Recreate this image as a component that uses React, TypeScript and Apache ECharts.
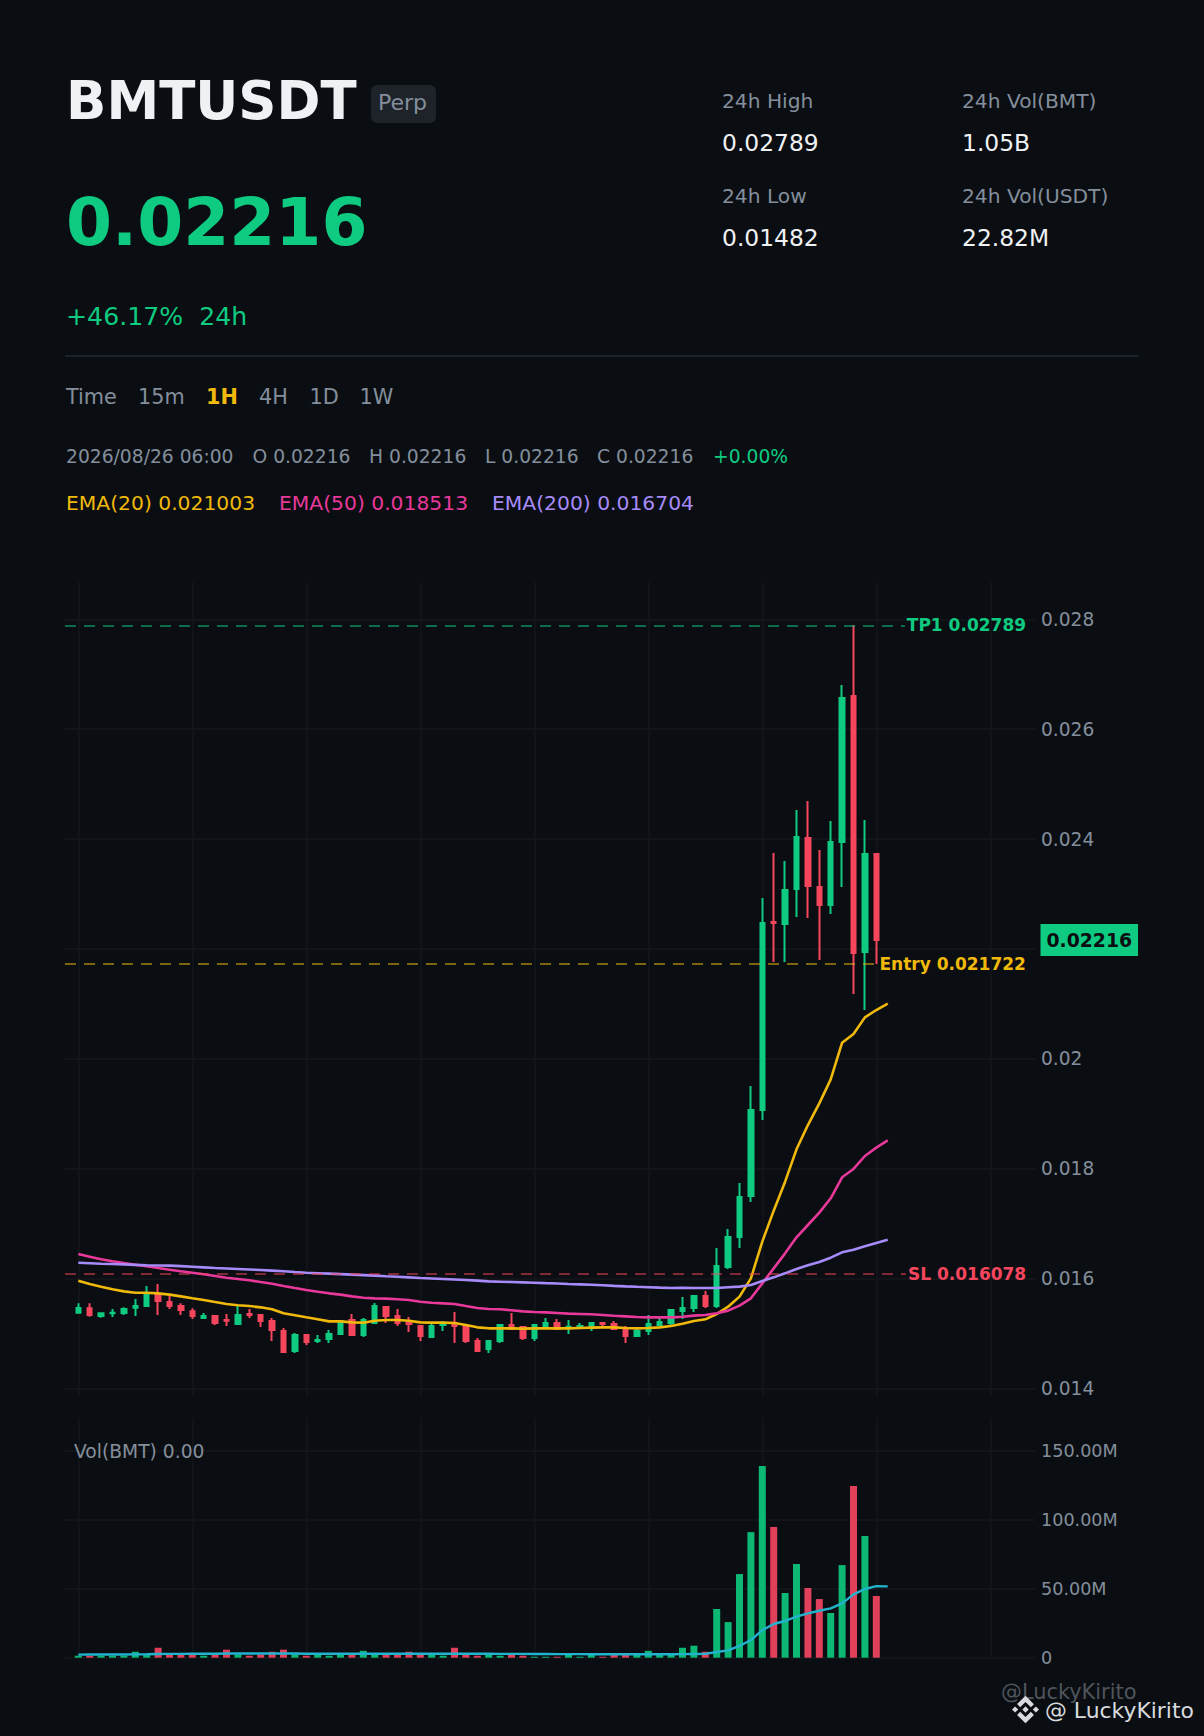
import React, { useEffect, useRef } from "react";
import * as echarts from "echarts";

const FONT = "DejaVu Sans";
const BG = "#0a0e12";
const UP = "#0ecb81";
const DOWN = "#f6465d";
const GOLD = "#f0b90b";
const PINK = "#e8399a";
const PURPLE = "#a78bfa";
const CYAN = "#22b3cf";
const MUTED = "#848e9c";
const GRID_H = "#15191e";
const GRID_V = "#12161b";

const opens = [
  0.015377, 0.015456, 0.015316, 0.015365, 0.015371, 0.015468, 0.015498, 0.015717, 0.015571, 0.015498,
  0.015401, 0.01528, 0.015316, 0.015244, 0.015171, 0.015353, 0.015335, 0.015225, 0.015043, 0.014679,
  0.014971, 0.014861, 0.014898, 0.014989, 0.015244, 0.014971, 0.015189, 0.01548, 0.015316, 0.015189,
  0.015134, 0.014934, 0.015153, 0.015189, 0.015134, 0.014861, 0.014716, 0.014861, 0.015153, 0.015116,
  0.014916, 0.015134, 0.015189, 0.01511, 0.015098, 0.015098, 0.015189, 0.015171, 0.015098, 0.014952,
  0.015043, 0.015153, 0.015189, 0.015407, 0.015462, 0.015681, 0.015499, 0.016209, 0.016755, 0.017501,
  0.019067, 0.022489, 0.022453, 0.02309, 0.024019, 0.023126, 0.022799, 0.023946, 0.026603, 0.021943, 0.023727,
];
const closes = [
  0.015462, 0.015335, 0.015365, 0.015377, 0.015444, 0.015498, 0.015717, 0.015589, 0.015498, 0.015426,
  0.015316, 0.015316, 0.015189, 0.015231, 0.015335, 0.015335, 0.015225, 0.015062, 0.014661, 0.014971,
  0.014843, 0.01488, 0.014989, 0.015225, 0.014971, 0.015244, 0.015498, 0.015316, 0.015189, 0.015171,
  0.014952, 0.015134, 0.015189, 0.015134, 0.014861, 0.014679, 0.014861, 0.015153, 0.01508, 0.014916,
  0.015153, 0.015189, 0.01508, 0.015122, 0.015134, 0.015189, 0.015171, 0.01508, 0.014952, 0.015043,
  0.015171, 0.015207, 0.015426, 0.015462, 0.015681, 0.015499, 0.016227, 0.016755, 0.017483, 0.019067,
  0.022471, 0.022471, 0.023072, 0.024037, 0.023145, 0.022799, 0.023946, 0.026567, 0.021925, 0.023727, 0.02216,
];
const lows = [
  0.015359, 0.015304, 0.015286, 0.015298, 0.015335, 0.015316, 0.015498, 0.015335, 0.015444, 0.015335,
  0.015262, 0.015262, 0.015153, 0.015134, 0.015153, 0.01528, 0.015116, 0.014861, 0.014643, 0.014643,
  0.014788, 0.014825, 0.014825, 0.014989, 0.014971, 0.014934, 0.015171, 0.015189, 0.015134, 0.015025,
  0.014861, 0.014916, 0.015043, 0.014825, 0.014825, 0.014661, 0.014643, 0.014825, 0.015062, 0.01488,
  0.014861, 0.01508, 0.015062, 0.014989, 0.01508, 0.015043, 0.015134, 0.015062, 0.014825, 0.014952,
  0.014971, 0.015134, 0.015153, 0.015262, 0.015389, 0.015462, 0.015462, 0.016172, 0.016554, 0.017392,
  0.018885, 0.021761, 0.021761, 0.02258, 0.022562, 0.021798, 0.022635, 0.023126, 0.021179, 0.020887, 0.021725,
];
const highs = [
  0.015547, 0.015547, 0.015383, 0.015444, 0.015474, 0.015626, 0.015863, 0.015899, 0.01568, 0.015547,
  0.015456, 0.015371, 0.015335, 0.015353, 0.015498, 0.015444, 0.015353, 0.01528, 0.015098, 0.015007,
  0.014989, 0.014971, 0.015062, 0.015244, 0.015353, 0.01528, 0.015553, 0.015498, 0.015444, 0.015298,
  0.015134, 0.015171, 0.015225, 0.015389, 0.015134, 0.014916, 0.01488, 0.015171, 0.015371, 0.015116,
  0.015153, 0.01528, 0.015262, 0.015244, 0.015189, 0.015189, 0.015207, 0.015225, 0.015134, 0.01508,
  0.015335, 0.01528, 0.015444, 0.015662, 0.015699, 0.015772, 0.016554, 0.0169, 0.017738, 0.019503,
  0.022926, 0.023745, 0.0236, 0.024528, 0.024692, 0.0238, 0.024328, 0.026804, 0.02789, 0.024346, 0.023727,
];
const ema20 = [
  0.01596, 0.015899, 0.01585, 0.015802, 0.015765, 0.015741, 0.015741, 0.015729, 0.015705, 0.015674,
  0.015638, 0.015608, 0.015571, 0.015535, 0.015511, 0.015498, 0.015474, 0.015438, 0.015365, 0.015329,
  0.015292, 0.015256, 0.015219, 0.015219, 0.015201, 0.015195, 0.015231, 0.015244, 0.015244, 0.015231,
  0.015201, 0.015195, 0.015195, 0.015189, 0.015153, 0.01511, 0.015092, 0.015092, 0.015092, 0.015086,
  0.015092, 0.015092, 0.015092, 0.015092, 0.015098, 0.015104, 0.01511, 0.01511, 0.015098, 0.015092,
  0.015098, 0.01511, 0.015134, 0.015175, 0.015226, 0.015256, 0.015353, 0.015486, 0.015669, 0.016002,
  0.01667, 0.017234, 0.017762, 0.018351, 0.018793, 0.019188, 0.019625, 0.020292, 0.02045, 0.020753,
  0.020887, 0.021003,
];
const ema50 = [
  0.016445, 0.016397, 0.016348, 0.016312, 0.016281, 0.016251, 0.016221, 0.01619, 0.01616, 0.01613,
  0.016105, 0.016075, 0.016045, 0.016014, 0.01599, 0.015966, 0.015935, 0.015905, 0.015863, 0.015826,
  0.01579, 0.015759, 0.015729, 0.015705, 0.015674, 0.01565, 0.015638, 0.015632, 0.01562, 0.015608,
  0.015577, 0.015559, 0.015547, 0.015535, 0.015498, 0.015462, 0.015444, 0.015438, 0.01542, 0.015401,
  0.015389, 0.015383, 0.015371, 0.015359, 0.015353, 0.015347, 0.015335, 0.015322, 0.01531, 0.015298,
  0.015292, 0.015292, 0.015292, 0.015304, 0.015323, 0.015335, 0.015365, 0.015414, 0.015505, 0.015638,
  0.015911, 0.016184, 0.016457, 0.016749, 0.016973, 0.017198, 0.017459, 0.017841, 0.017993, 0.018229,
  0.018381, 0.018513,
];
const ema200 = [
  0.016287, 0.016278, 0.016269, 0.016263, 0.016257, 0.016248, 0.016239, 0.016236, 0.016233, 0.016224,
  0.016214, 0.016202, 0.01619, 0.016181, 0.016172, 0.016163, 0.016154, 0.016142, 0.01613, 0.016117,
  0.016105, 0.016096, 0.016087, 0.016078, 0.016069, 0.01606, 0.016051, 0.01604, 0.01603, 0.016019,
  0.016008, 0.015999, 0.01599, 0.015981, 0.015972, 0.01596, 0.015947, 0.015941, 0.015935, 0.015929,
  0.015923, 0.015915, 0.015908, 0.0159, 0.015893, 0.015884, 0.015875, 0.015865, 0.015856, 0.015848,
  0.015841, 0.015833, 0.015826, 0.015828, 0.015826, 0.015826, 0.015826, 0.015839, 0.015851, 0.015881,
  0.015954, 0.01602, 0.016093, 0.016172, 0.016239, 0.016299, 0.016378, 0.016475, 0.016524, 0.016585,
  0.016645, 0.016704,
];
const volumesM = [
  1.45, 1.45, 1.5, 1.45, 1.45, 4.3, 1.9, 7.2, 2.4, 2.4,
  2.4, 1.45, 2.4, 5.8, 2.4, 1.45, 2.4, 4.3, 5.8, 2.4,
  1.45, 2.4, 1.45, 2.4, 2.4, 5, 3.4, 2.4, 2.4, 4.3,
  2.9, 2.4, 1.45, 7.2, 2.4, 1.45, 2.2, 1.45, 2.4, 1.45,
  0.7, 0.7, 0.7, 2.4, 0.7, 2.4, 0.7, 2.2, 2.2, 2.4,
  5, 2.2, 2.2, 7.2, 8.7, 4.3, 35.3, 25.8, 60.6, 91,
  138.9, 94.7, 46.9, 67.9, 50.5, 42.5, 32.4, 67.1, 124.4, 88.2, 44.7,
];
const volumeMA = [
  2.2, 2.3, 2.3, 2.3, 2.3, 2.4, 2.5, 2.7, 2.8, 2.8,
  2.9, 2.9, 2.9, 3, 3, 3, 3, 3, 3, 3,
  2.9, 2.9, 2.9, 2.9, 2.9, 2.9, 2.9, 2.9, 2.9, 2.9,
  2.9, 2.9, 2.9, 2.9, 2.9, 2.9, 2.9, 2.8, 2.8, 2.8,
  2.7, 2.7, 2.6, 2.6, 2.6, 2.5, 2.5, 2.5, 2.5, 2.5,
  2.5, 2.5, 2.5, 2.6, 2.7, 2.8, 4.1, 5.3, 8.5, 12.8,
  20, 24.4, 26.6, 29.7, 32.1, 34, 35.7, 39.4, 45.9, 49.8, 51.9, 51.7,
];
const priceTicks = [0.014, 0.016, 0.018, 0.02, 0.022, 0.024, 0.026, 0.028];
const volumeTicks = [0, 50, 100, 150];
const timeTicks = [0, 10, 20, 30, 40, 50, 60, 70, 80];
const tpLevel = 0.02789;
const entryLevel = 0.021722;
const slLevel = 0.016078;
const lastPrice = 0.02216;

const X_MIN = -1.1667;
const X_MAX = 83.92;
const LOGO =
  "M38.73 53.2L64 27.94l25.28 25.28 14.7-14.7L64 -1.47 24.03 38.5zM-.01 63.99l14.7-14.7 14.7 14.7-14.7 14.7zM38.73 74.8L64 100.06l25.28-25.28 14.7 14.69L64 129.45 24.03 89.5zM98.6 64l14.7-14.7L128 64l-14.7 14.7zM78.92 63.99L64 49.06 52.96 60.1l-1.27 1.27-2.61 2.61L64 78.93 78.92 64z";

const txt = (x: number, y: number, text: string, size: number, fill: string, weight = "normal") => ({
  type: "text",
  x,
  y,
  z: 100,
  style: { text, fill, fontSize: size, fontWeight: weight, fontFamily: FONT, textVerticalAlign: "middle", verticalAlign: "middle" },
});

const levelLine = (name: string, level: number, end: number, color: string) => [
  { coord: [X_MIN, level], name, lineStyle: { color: color + "80", width: 2, type: [11, 8] } },
  { coord: [end, level] },
];

export default function App() {
  const ref = useRef<HTMLDivElement>(null);
  useEffect(() => {
    document.body.style.margin = "0";
    document.body.style.background = BG;
    echarts.graphic.registerShape("logo", echarts.graphic.extendPath(LOGO as any, {}) as any);
    const chart = echarts.init(ref.current!, null, { renderer: "svg" });
    const splitH = { show: true, lineStyle: { color: GRID_H, width: 1.6 } };
    const splitV = { show: true, lineStyle: { color: GRID_V, width: 1.6 } };
    const mkLabel = (color: string) => ({
      show: true,
      position: "end",
      distance: 2,
      color,
      fontSize: 17,
      fontWeight: "bold",
      fontFamily: FONT,
      padding: [0, 0, 3, 0],
      formatter: (p: any) => p.name,
    });
    chart.setOption({
      animation: false,
      backgroundColor: BG,
      grid: [
        { left: 65, width: 970, top: 582, height: 814 },
        { left: 65, width: 970, top: 1418, height: 239.7 },
      ],
      xAxis: [0, 1].map((gridIndex) => ({
        type: "value",
        gridIndex,
        min: X_MIN,
        max: X_MAX,
        axisLine: { show: false },
        axisLabel: { show: false },
        axisTick: { show: false, customValues: timeTicks },
        splitLine: splitV,
      })),
      yAxis: [
        {
          type: "value",
          gridIndex: 0,
          position: "right",
          min: 0.01386,
          max: 0.028679,
          axisLine: { show: false },
          axisTick: { show: false, customValues: priceTicks },
          axisLabel: { color: MUTED, fontSize: 18.6, fontFamily: FONT, margin: 6, customValues: priceTicks, formatter: (v: number) => String(+v.toFixed(3)) },
          splitLine: splitH,
        },
        {
          type: "value",
          gridIndex: 1,
          position: "right",
          min: 0,
          max: 173.7,
          axisLine: { show: false },
          axisTick: { show: false, customValues: volumeTicks },
          axisLabel: { color: MUTED, fontSize: 17.6, fontFamily: FONT, margin: 6, customValues: volumeTicks, formatter: (v: number) => (v === 0 ? "0" : v.toFixed(2) + "M") },
          splitLine: splitH,
        },
      ],
      graphic: [
        txt(66, 100, "BMTUSDT", 53, "#f0f1f4", "bold"),
        { type: "rect", z: 99, shape: { x: 371, y: 85, width: 65, height: 38, r: 6 }, style: { fill: "#1e2329" } },
        txt(378, 102, "Perp", 22, MUTED),
        txt(66, 222, "0.02216", 66.2, UP, "bold"),
        txt(66, 316.5, "+46.17%  24h", 25.2, UP),
        txt(722, 100.5, "24h High", 20.2, MUTED),
        txt(722, 143, "0.02789", 23.4, "#f0f1f4"),
        txt(722, 196, "24h Low", 20.2, MUTED),
        txt(722, 238, "0.01482", 23.4, "#f0f1f4"),
        txt(962, 100.5, "24h Vol(BMT)", 20.2, MUTED),
        txt(962, 143, "1.05B", 23.4, "#f0f1f4"),
        txt(962, 196, "24h Vol(USDT)", 20.2, MUTED),
        txt(962, 238, "22.82M", 23.4, "#f0f1f4"),
        { type: "rect", z: 99, shape: { x: 65, y: 355, width: 1074, height: 2 }, style: { fill: "#1c2129" } },
        txt(66, 397, "Time", 20.8, MUTED),
        txt(138, 397, "15m", 20.8, MUTED),
        txt(206, 397, "1H", 20.8, GOLD, "bold"),
        txt(259, 397, "4H", 20.8, MUTED),
        txt(309.5, 397, "1D", 20.8, MUTED),
        txt(359.5, 397, "1W", 20.8, MUTED),
        txt(66, 456, "2026/08/26 06:00", 18.7, MUTED),
        txt(252.5, 456, "O 0.02216", 18.7, MUTED),
        txt(369, 456, "H 0.02216", 18.7, MUTED),
        txt(485, 456, "L 0.02216", 18.7, MUTED),
        txt(597, 456, "C 0.02216", 18.7, MUTED),
        txt(713, 456, "+0.00%", 18.7, UP),
        txt(66, 503, "EMA(20) 0.021003", 20.3, GOLD),
        txt(279, 503, "EMA(50) 0.018513", 20.3, PINK),
        txt(492, 503, "EMA(200) 0.016704", 20.3, PURPLE),
        txt(74, 1451, "Vol(BMT) 0.00", 18.7, MUTED),
        txt(1001, 1692, "@LuckyKirito", 20.9, "#4f545c"),
        { type: "logo", z: 100, x: 1012, y: 1696, scaleX: 27 / 128, scaleY: 27 / 128, style: { fill: "#d8dade" } },
        txt(1045, 1710, "@ LuckyKirito", 21.9, "#d8dade"),
      ],
      series: [
        {
          type: "line",
          silent: true,
          data: [],
          z: 1,
          clip: false,
          markLine: {
            silent: true,
            symbol: "none",
            data: [
              levelLine("TP1 0.02789", tpLevel, 72.5, UP),
              levelLine("Entry 0.021722", entryLevel, 70.1, GOLD),
              levelLine("SL 0.016078", slLevel, 72.6, DOWN),
            ].map((d, i) => [{ ...d[0], label: mkLabel([UP, GOLD, DOWN][i]) }, d[1]]),
          },
        },
        {
          type: "candlestick",
          z: 2,
          barWidth: 5,
          data: opens.map((o, i) => [i, o, closes[i], lows[i], highs[i]]),
          itemStyle: { color: UP, color0: DOWN, borderColor: UP, borderColor0: DOWN, borderWidth: 2 },
        },
        ...[
          [ema20, GOLD],
          [ema50, PINK],
          [ema200, PURPLE],
        ].map(([vals, color]: any) => ({
          type: "line",
          z: 3,
          symbol: "none",
          data: vals.map((v: number, i: number) => [i, v]),
          lineStyle: { color, width: 2.6 },
        })),
        {
          type: "bar",
          xAxisIndex: 1,
          yAxisIndex: 1,
          barWidth: 7,
          z: 2,
          data: volumesM.map((v, i) => ({
            value: [i, v],
            itemStyle: { color: closes[i] >= opens[i] ? "#0cb874" : "#e0405a" },
          })),
        },
        {
          type: "line",
          xAxisIndex: 1,
          yAxisIndex: 1,
          z: 3,
          symbol: "none",
          data: volumeMA.map((v, i) => [i, v]),
          lineStyle: { color: CYAN, width: 2.4 },
        },
        {
          type: "line",
          silent: true,
          data: [],
          z: 6,
          clip: false,
          markLine: {
            silent: true,
            symbol: "none",
            data: [
              [
                {
                  coord: [X_MAX - 0.3, lastPrice],
                  name: "0.02216",
                  lineStyle: { color: "rgba(0,0,0,0)", width: 1 },
                  label: {
                    show: true,
                    position: "end",
                    distance: 5.5,
                    color: "#0a0e12",
                    backgroundColor: UP,
                    padding: [7, 6, 6, 6],
                    fontSize: 18.8,
                    fontWeight: "bold",
                    fontFamily: FONT,
                    formatter: (p: any) => p.name,
                  },
                },
                { coord: [X_MAX, lastPrice] },
              ],
            ],
          },
        },
      ],
    });
    return () => chart.dispose();
  }, []);
  return <div ref={ref} style={{ width: 1204, height: 1736 }} />;
}
